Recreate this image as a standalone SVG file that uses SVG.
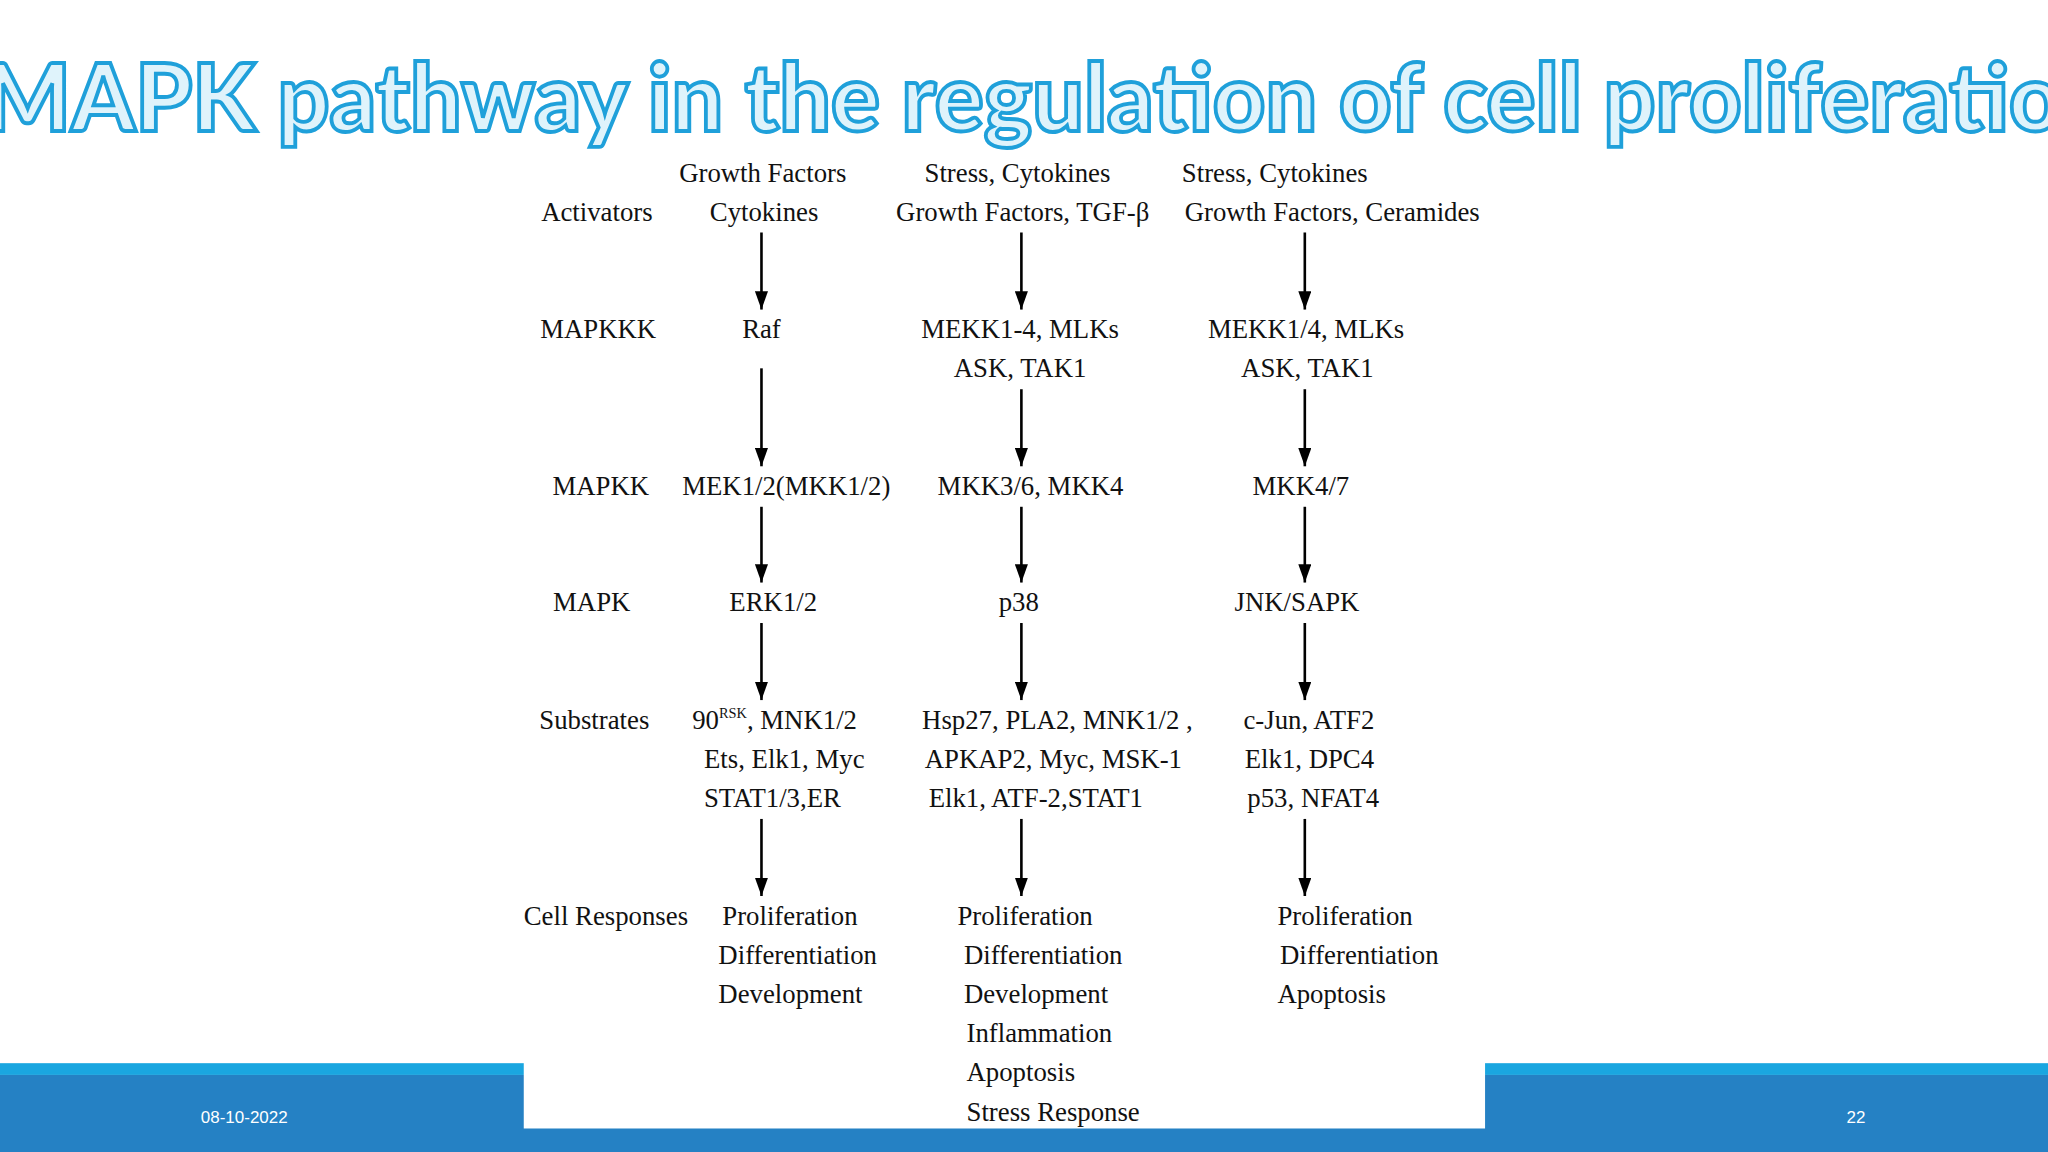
<svg xmlns="http://www.w3.org/2000/svg" width="2048" height="1152" viewBox="0 0 2048 1152">
<defs>
<style>
.t{font-family:"Liberation Serif",serif;font-size:20.5px;fill:#111}
.m{text-anchor:middle}
.a{stroke:#000;stroke-width:2}
.f{font-family:"Liberation Sans",sans-serif;font-size:13px;fill:#fff;text-anchor:middle}
</style>
<marker id="ah" viewBox="0 0 14 10" refX="14" refY="5" markerWidth="14" markerHeight="10" markerUnits="userSpaceOnUse" orient="auto"><path d="M0,0 L14,5 L0,10 Z" fill="#000"/></marker>
</defs>
<g transform="scale(1.30612)">
<rect width="1568" height="882" fill="#fff"/>
<g id="footer">
<rect x="0" y="814" width="1568" height="9" fill="#1aa6e0"/>
<rect x="0" y="823" width="1568" height="59" fill="#2581c4"/>
<rect x="401" y="810" width="736" height="54" fill="#fff"/>
<text class="f" x="187" y="860">08-10-2022</text>
<text class="f" x="1421" y="860">22</text>
</g>
<g id="title">
<text x="-12" y="100" font-family="Lato,sans-serif" font-weight="900" font-size="72" fill="#dff3fb" stroke="#1fa0da" stroke-width="3" textLength="1630" lengthAdjust="spacingAndGlyphs">MAPK pathway in the regulation of cell proliferation</text>
</g>
<g id="connectors">
<line class="a" x1="583" y1="178" x2="583" y2="237" marker-end="url(#ah)"/>
<line class="a" x1="782" y1="178" x2="782" y2="237" marker-end="url(#ah)"/>
<line class="a" x1="999" y1="178" x2="999" y2="237" marker-end="url(#ah)"/>
<line class="a" x1="583" y1="282" x2="583" y2="357" marker-end="url(#ah)"/>
<line class="a" x1="782" y1="298" x2="782" y2="357" marker-end="url(#ah)"/>
<line class="a" x1="999" y1="298" x2="999" y2="357" marker-end="url(#ah)"/>
<line class="a" x1="583" y1="388" x2="583" y2="446" marker-end="url(#ah)"/>
<line class="a" x1="782" y1="388" x2="782" y2="446" marker-end="url(#ah)"/>
<line class="a" x1="999" y1="388" x2="999" y2="446" marker-end="url(#ah)"/>
<line class="a" x1="583" y1="477" x2="583" y2="536" marker-end="url(#ah)"/>
<line class="a" x1="782" y1="477" x2="782" y2="536" marker-end="url(#ah)"/>
<line class="a" x1="999" y1="477" x2="999" y2="536" marker-end="url(#ah)"/>
<line class="a" x1="583" y1="627" x2="583" y2="686" marker-end="url(#ah)"/>
<line class="a" x1="782" y1="627" x2="782" y2="686" marker-end="url(#ah)"/>
<line class="a" x1="999" y1="627" x2="999" y2="686" marker-end="url(#ah)"/>
</g>
<g id="labels">
<text class="t m" x="457" y="169">Activators</text>
<text class="t m" x="458" y="259">MAPKKK</text>
<text class="t m" x="460" y="379">MAPKK</text>
<text class="t m" x="453" y="468">MAPK</text>
<text class="t m" x="455" y="558">Substrates</text>
<text class="t" x="401" y="708">Cell Responses</text>
</g>
<g id="col1">
<text class="t m" x="584" y="139">Growth Factors</text>
<text class="t m" x="585" y="169">Cytokines</text>
<text class="t m" x="583" y="259">Raf</text>
<text class="t m" x="602" y="379">MEK1/2(MKK1/2)</text>
<text class="t m" x="592" y="468">ERK1/2</text>
<text class="t" x="530" y="558">90<tspan font-size="11" dy="-8">RSK</tspan><tspan dy="8">, MNK1/2</tspan></text>
<text class="t" x="539" y="588">Ets, Elk1, Myc</text>
<text class="t" x="539" y="618">STAT1/3,ER</text>
<text class="t" x="553" y="708">Proliferation</text>
<text class="t" x="550" y="738">Differentiation</text>
<text class="t" x="550" y="768">Development</text>
</g>
<g id="col2">
<text class="t m" x="779" y="139">Stress, Cytokines</text>
<text class="t m" x="783" y="169">Growth Factors, TGF-β</text>
<text class="t m" x="781" y="259">MEKK1-4, MLKs</text>
<text class="t m" x="781" y="289">ASK, TAK1</text>
<text class="t m" x="789" y="379">MKK3/6, MKK4</text>
<text class="t m" x="780" y="468">p38</text>
<text class="t" x="706" y="558">Hsp27, PLA2, MNK1/2 ,</text>
<text class="t" x="708" y="588">APKAP2, Myc, MSK-1</text>
<text class="t" x="711" y="618">Elk1, ATF-2,STAT1</text>
<text class="t" x="733" y="708">Proliferation</text>
<text class="t" x="738" y="738">Differentiation</text>
<text class="t" x="738" y="768">Development</text>
<text class="t" x="740" y="798">Inflammation</text>
<text class="t" x="740" y="828">Apoptosis</text>
<text class="t" x="740" y="858">Stress Response</text>
</g>
<g id="col3">
<text class="t m" x="976" y="139">Stress, Cytokines</text>
<text class="t m" x="1020" y="169">Growth Factors, Ceramides</text>
<text class="t m" x="1000" y="259">MEKK1/4, MLKs</text>
<text class="t m" x="1001" y="289">ASK, TAK1</text>
<text class="t m" x="996" y="379">MKK4/7</text>
<text class="t m" x="993" y="468">JNK/SAPK</text>
<text class="t" x="952" y="558">c-Jun, ATF2</text>
<text class="t" x="953" y="588">Elk1, DPC4</text>
<text class="t" x="955" y="618">p53, NFAT4</text>
<text class="t" x="978" y="708">Proliferation</text>
<text class="t" x="980" y="738">Differentiation</text>
<text class="t" x="978" y="768">Apoptosis</text>
</g>
</g>
</svg>
